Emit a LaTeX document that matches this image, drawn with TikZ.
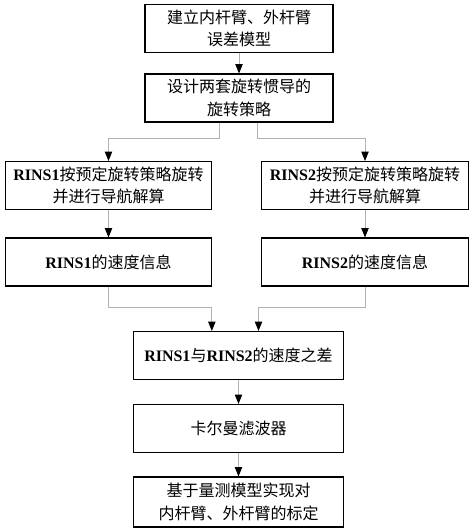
\documentclass[tikz,border=0pt]{standalone}
\usepackage{fontspec}
\setmainfont{Liberation Serif}
\newfontfamily\cjk{Noto Sans CJK SC}
\usetikzlibrary{positioning, arrows.meta}

\newcommand{\rins}[1]{{\rmfamily\bfseries RINS#1}}

\tikzset{
  box/.style={draw=black, line width=0.8pt, align=center, minimum height=36pt, inner sep=0pt},
  link/.style={draw=gray!60, line width=0.6pt, -{Triangle[color=black, length=7pt, width=5.5pt]}}
}

\begin{document}
\begin{tikzpicture}[
  x=0.75pt, y=0.75pt,
  every node/.style={font=\cjk\fontsize{12}{17}\selectfont}
]
\useasboundingbox (0,0) rectangle (474,-530);

% top boxes
\node[box, minimum width=141pt] (model) at (239,-28.5) {建立内杆臂、外杆臂\\误差模型};
\node[box, minimum width=141pt] (plan) at (239,-98) {设计两套旋转惯导的\\旋转策略};

% two branches
\node[box, minimum width=155pt] (nav1) at (108.5,-185.5) {\rins{1}按预定旋转策略旋转\\并进行导航解算};
\node[box, minimum width=155pt] (nav2) at (365,-185.5) {\rins{2}按预定旋转策略旋转\\并进行导航解算};
\node[box, minimum width=155pt] (vel1) at (108.5,-262) {\rins{1}的速度信息};
\node[box, minimum width=155pt] (vel2) at (365,-262) {\rins{2}的速度信息};

% bottom boxes
\node[box, minimum width=157.5pt] (diff) at (238.5,-355.5) {\rins{1}与\rins{2}的速度之差};
\node[box, minimum width=157.5pt] (kalman) at (238.5,-428.5) {卡尔曼滤波器};
\node[box, minimum width=157.5pt, minimum height=37.5pt] (calib) at (238.5,-502) {基于量测模型实现对\\内杆臂、外杆臂的标定};

% connectors
\draw[link] (model) -- (plan);
\draw[link] ([xshift=-15pt]plan.south) -- ++(0,-16) -| (nav1);
\draw[link] ([xshift=14pt]plan.south) -- ++(0,-16) -| (nav2);
\draw[link] (nav1) -- (vel1);
\draw[link] (nav2) -- (vel2);
\draw[link] (vel1.south) -- ++(0,-21) -| ([xshift=-20pt]diff.north);
\draw[link] (vel2.south) -- ++(0,-21) -| ([xshift=15pt]diff.north);
\draw[link] (diff) -- (kalman);
\draw[link] (kalman) -- (calib);
\end{tikzpicture}
\end{document}
